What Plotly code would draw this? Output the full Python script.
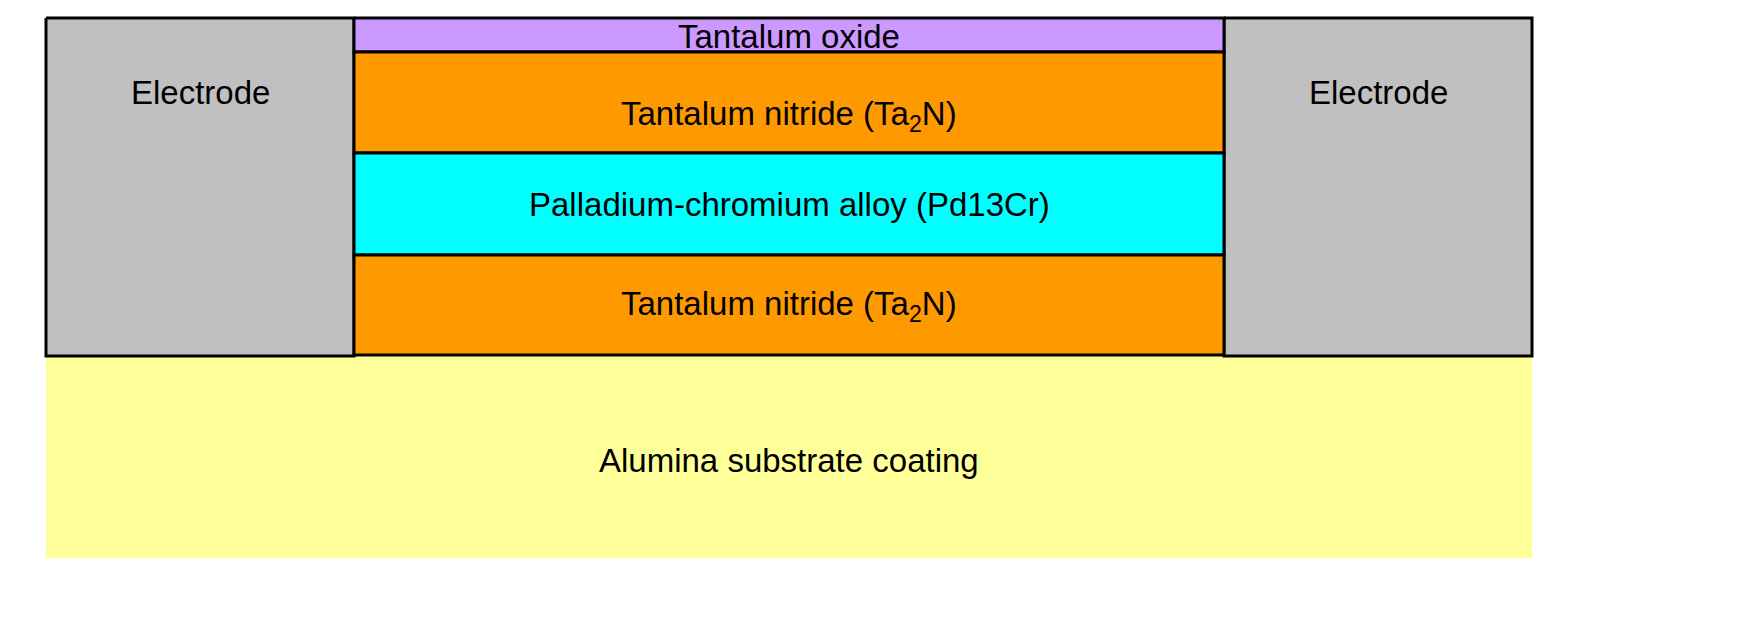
import plotly.graph_objects as go

# Layer stack (diagram units = pixels of the 1740x627 canvas)
layer_names = ["Alumina substrate coating", "Electrode", "Electrode", "Tantalum oxide",
               "Tantalum nitride (Ta<sub>2</sub>N)", "Palladium-chromium alloy (Pd13Cr)",
               "Tantalum nitride (Ta<sub>2</sub>N)"]
layer_x0 = [38, 38, 1216, 346, 346, 346, 346]
layer_x1 = [1524, 346, 1524, 1216, 1216, 1216, 1216]
layer_y0 = [348, 10, 10, 10, 44, 145, 247]
layer_y1 = [550, 348, 348, 44, 145, 247, 347]
layer_colors = ["#FFFF99", "#C0C0C0", "#C0C0C0", "#CC99FF", "#FF9900", "#00FFFF", "#FF9900"]
label_y = [452, 84, 84, 28, 108, 196, 298]
bordered = [False, True, True, True, True, True, True]

fig = go.Figure()
for i in range(len(layer_names)):
    x0, x1, y0, y1 = layer_x0[i], layer_x1[i], layer_y0[i], layer_y1[i]
    fig.add_trace(go.Scatter(
        x=[x0, x1, x1, x0, x0], y=[y0, y0, y1, y1, y0], mode="lines", fill="toself",
        fillcolor=layer_colors[i],
        line=dict(color="black" if bordered[i] else layer_colors[i], width=3 if bordered[i] else 0),
        hoverinfo="skip", showlegend=False))
    fig.add_annotation(x=(x0 + x1) / 2, y=label_y[i], text=layer_names[i], showarrow=False,
                       font=dict(family="Liberation Sans, Arial", size=33, color="black"))

fig.update_layout(width=1740, height=627, margin=dict(l=0, r=0, t=0, b=0),
                  paper_bgcolor="white", plot_bgcolor="white",
                  xaxis=dict(range=[0, 1740], visible=False, fixedrange=True),
                  yaxis=dict(range=[627, 0], visible=False, fixedrange=True))
fig.write_html("out.html")
